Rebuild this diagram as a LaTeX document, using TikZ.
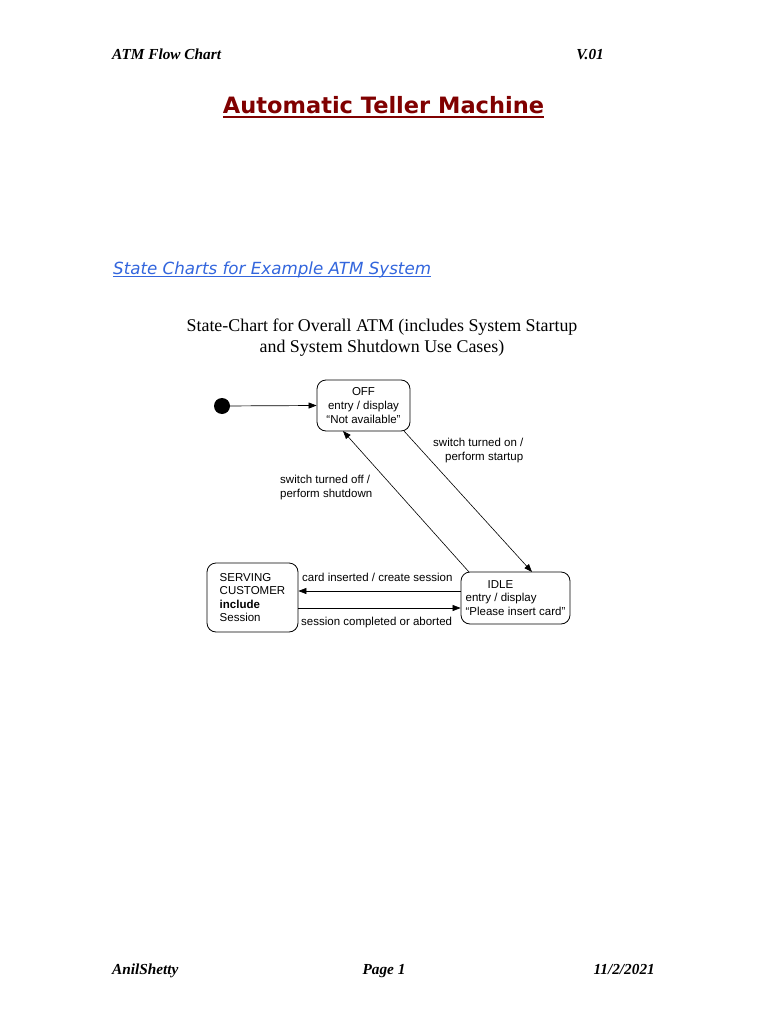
\documentclass[tikz,border=0pt]{standalone}
\usepackage{fontspec}
\setmainfont{Liberation Serif}
\newfontfamily\arialf{Liberation Sans}
\newfontfamily\verdf{DejaVu Sans}
\usetikzlibrary{arrows.meta}
\definecolor{titlered}{HTML}{800000}
\definecolor{linkblue}{HTML}{3366DD}
\begin{document}
\begin{tikzpicture}[x=1pt,y=-1pt,
  state/.style={draw, rounded corners=9pt, line width=0.8pt, inner sep=0pt,
    font=\arialf\fontsize{11.5}{13.6}\selectfont},
  lbl/.style={font=\arialf\fontsize{11.5}{14}\selectfont, inner sep=0pt, align=left},
  conn/.style={line width=0.7pt, -{Triangle[length=8pt,width=6pt]}},
  hdr/.style={font=\fontsize{15.3}{18}\selectfont\bfseries\itshape, inner sep=0pt}]
\useasboundingbox (0,0) rectangle (768,1024);
\fill[white] (0,0) rectangle (768,1024);

% header / footer
\node[hdr, anchor=base west] (h1) at (112,60) {ATM Flow Chart};
\node[hdr, anchor=base east] (h2) at (604,60) {V.01};
\node[hdr, anchor=base west] (f1) at (112,974) {AnilShetty};
\node[hdr, anchor=base] (f2) at (384,974) {Page 1};
\node[hdr, anchor=base east] (f3) at (655,974) {11/2/2021};

% title
\node[anchor=base, inner sep=0pt, text=titlered, font=\verdf\bfseries\fontsize{22.5}{26}\selectfont] (title) at (383.5,114) {Automatic Teller Machine};
\draw[titlered, line width=1.2pt] ([yshift=-3pt]title.base west) -- ([yshift=-3pt]title.base east);

% link
\node[anchor=base west, inner sep=0pt, text=linkblue, font=\verdf\itshape\fontsize{16.7}{20}\selectfont] (link) at (113,274) {State Charts for Example ATM System};
\draw[linkblue, line width=0.8pt] ([yshift=-2.5pt]link.base west) -- ([yshift=-2.5pt]link.base east);

% chart title
\node[anchor=base, inner sep=0pt, align=center, font=\fontsize{17.9}{20.5}\selectfont] (ct) at (382,352) {State-Chart for Overall ATM (includes System Startup\\and System Shutdown Use Cases)};

% states
\node[circle, fill=black, minimum size=16pt, inner sep=0pt] (init) at (222,406) {};
\node[state, minimum width=93pt, minimum height=51pt, align=center] (off) at (363.5,405.5) {OFF\\entry / display\\“Not available”};
\node[state, minimum width=109pt, minimum height=52pt, align=left] (idle) at (515.5,598) {\hspace*{22pt}IDLE\\entry / display\\“Please insert card”};
\node[state, minimum width=91pt, minimum height=69pt, align=left] (serv) at (252.5,597.5) {SERVING\\CUSTOMER\\\textbf{include}\\Session};

% transitions
\draw[conn] (init) -- (off.west);
\draw[conn] (idle.west |- 0,591) -- (serv.east |- 0,591);
\draw[conn] (serv.east |- 0,608) -- (idle.west |- 0,608);
\coordinate (onstart) at (404,431);
\coordinate (onend) at (532,572);
\draw[conn, line width=0.6pt] (onstart) -- (onend);
\coordinate (offstart) at (469,572);
\coordinate (offend) at (343,431);
\draw[conn, line width=0.6pt] (offstart) -- (offend);

% labels
\node[lbl, anchor=base west] (l1) at (302,581) {card inserted / create session};
\node[lbl, anchor=base west] (l2) at (301,625) {session completed or aborted};
\node[lbl, anchor=north west] (l3) at (433,438) {switch turned on /\\\hspace*{12pt}perform startup};
\node[lbl, anchor=north west] (l4) at (280,475) {switch turned off /\\perform shutdown};
\end{tikzpicture}
\end{document}
